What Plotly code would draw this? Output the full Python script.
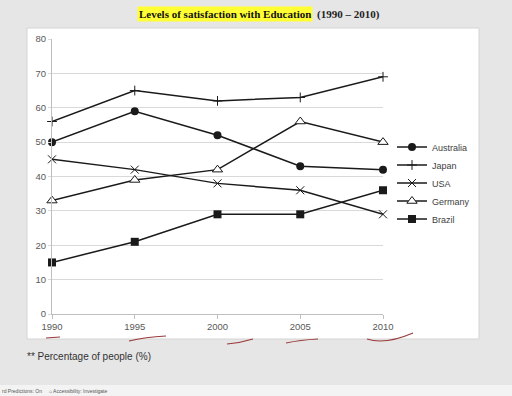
import plotly.graph_objects as go

years = [1990, 1995, 2000, 2005, 2010]
australia = [50, 59, 52, 43, 42]
japan = [56, 65, 62, 63, 69]
usa = [45, 42, 38, 36, 29]
germany = [33, 39, 42, 56, 50]
brazil = [15, 21, 29, 29, 36]
y_ticks = [0, 10, 20, 30, 40, 50, 60, 70, 80]

W, H = 512, 396
L, R, T, B = 52, 383, 39, 314
pw, ph = R - L, B - T


def px(x):
    return (x - L) / pw


def py(y):
    return (B - y) / ph


INK = "#1a1a1a"
series = [
    ("Australia", australia, dict(symbol="circle", size=8, color=INK)),
    ("Japan", japan, dict(symbol="cross-thin", size=7, color=INK, line=dict(color=INK, width=1))),
    ("USA", usa, dict(symbol="x-thin", size=8, color=INK, line=dict(color=INK, width=1))),
    ("Germany", germany, dict(symbol="triangle-up", size=9, color="white", line=dict(color=INK, width=1))),
    ("Brazil", brazil, dict(symbol="square", size=8, color=INK)),
]

fig = go.Figure()
legend_layout = {}
for i, (name, vals, mk) in enumerate(series):
    key = "legend" if i == 0 else "legend%d" % (i + 1)
    fig.add_trace(go.Scatter(x=years, y=vals, name=name, mode="lines+markers",
                             line=dict(color=INK, width=1.5), marker=mk, cliponaxis=False,
                             legend=key))
    center = 147 + 18 * i
    legend_layout[key] = dict(x=px(392), y=py(center), xanchor="left", yanchor="middle",
                              bgcolor="rgba(0,0,0,0)", font=dict(size=9, color="#404040"),
                              itemwidth=30, borderwidth=0)

fig.update_layout(
    width=W, height=H,
    margin=dict(l=L, r=W - R, t=T, b=H - B, pad=0),
    paper_bgcolor="#e6e6e6",
    plot_bgcolor="white",
    font=dict(family="Liberation Sans, Arial, sans-serif", size=9, color="#595959"),
    showlegend=True,
    xaxis=dict(range=[1990, 2010], tickvals=years, ticktext=[str(y) for y in years],
               showgrid=False, showline=True, linecolor="#bfbfbf", linewidth=1,
               ticks="outside", ticklen=4, tickcolor="#bfbfbf", zeroline=False,
               tickfont=dict(size=9.5, color="#595959")),
    yaxis=dict(range=[0, 80], tickvals=y_ticks, showgrid=True, gridcolor="#d9d9d9",
               gridwidth=1, showline=True, linecolor="#bfbfbf", linewidth=1,
               ticks="outside", ticklen=3, tickcolor="#d9d9d9", zeroline=False,
               tickfont=dict(size=9.5, color="#595959")),
    **legend_layout,
)

# white slide chart box
fig.add_shape(type="rect", xref="paper", yref="paper", layer="below",
              x0=px(27), x1=px(479), y0=py(339), y1=py(28),
              fillcolor="white", line=dict(color="#d4d4d4", width=1))
# status bar
fig.add_shape(type="rect", xref="paper", yref="paper", layer="below",
              x0=px(-5), x1=px(520), y0=py(400), y1=py(385),
              fillcolor="#f3f3f3", line=dict(width=0))

# title
fig.add_annotation(xref="paper", yref="paper", x=px(313), y=py(14), xanchor="right",
                   yanchor="middle", showarrow=False,
                   text="<b>Levels of satisfaction with Education</b>",
                   font=dict(family="Liberation Serif, Times New Roman, serif", size=11, color="#111111"),
                   bgcolor="#ffff33", borderpad=1)
fig.add_annotation(xref="paper", yref="paper", x=px(315), y=py(14), xanchor="left",
                   yanchor="middle", showarrow=False,
                   text="<b>(1990 – 2010)</b>",
                   font=dict(family="Liberation Serif, Times New Roman, serif", size=11, color="#222222"))

# footnote
fig.add_annotation(xref="paper", yref="paper", x=px(25), y=py(356), xanchor="left",
                   yanchor="middle", showarrow=False,
                   text="** Percentage of people (%)",
                   font=dict(family="Liberation Sans, Arial, sans-serif", size=10, color="#333333"))

# status bar text
fig.add_annotation(xref="paper", yref="paper", x=px(0), y=py(390.5), xanchor="left",
                   yanchor="middle", showarrow=False,
                   text="rd Predictions: On     \u2302 Accessibility: Investigate",
                   font=dict(family="Liberation Sans, Arial, sans-serif", size=5, color="#555555"))

# hand-drawn red underlines
scribbles = [
    "M {a},{b} L {c},{d}".format(a=px(46), b=py(338), c=px(60), d=py(337)),
    "M {a},{b} Q {c},{d} {e},{f}".format(a=px(129), b=py(341), c=px(145), d=py(337), e=px(166), f=py(336)),
    "M {a},{b} Q {c},{d} {e},{f}".format(a=px(227), b=py(344), c=px(240), d=py(343), e=px(253), f=py(339)),
    "M {a},{b} Q {c},{d} {e},{f}".format(a=px(286), b=py(343), c=px(300), d=py(340), e=px(318), f=py(339)),
    "M {a},{b} Q {c},{d} {e},{f}".format(a=px(367), b=py(339), c=px(385), d=py(345), e=px(413), f=py(333)),
]
for p in scribbles:
    fig.add_shape(type="path", xref="paper", yref="paper", path=p,
                  line=dict(color="#9b3a3a", width=1.2))

fig.write_html("out.html", config={"displayModeBar": False},
               post_script="document.body.style.margin='0';document.body.style.background='#e6e6e6';"
                           "document.body.style.overflow='hidden';")
